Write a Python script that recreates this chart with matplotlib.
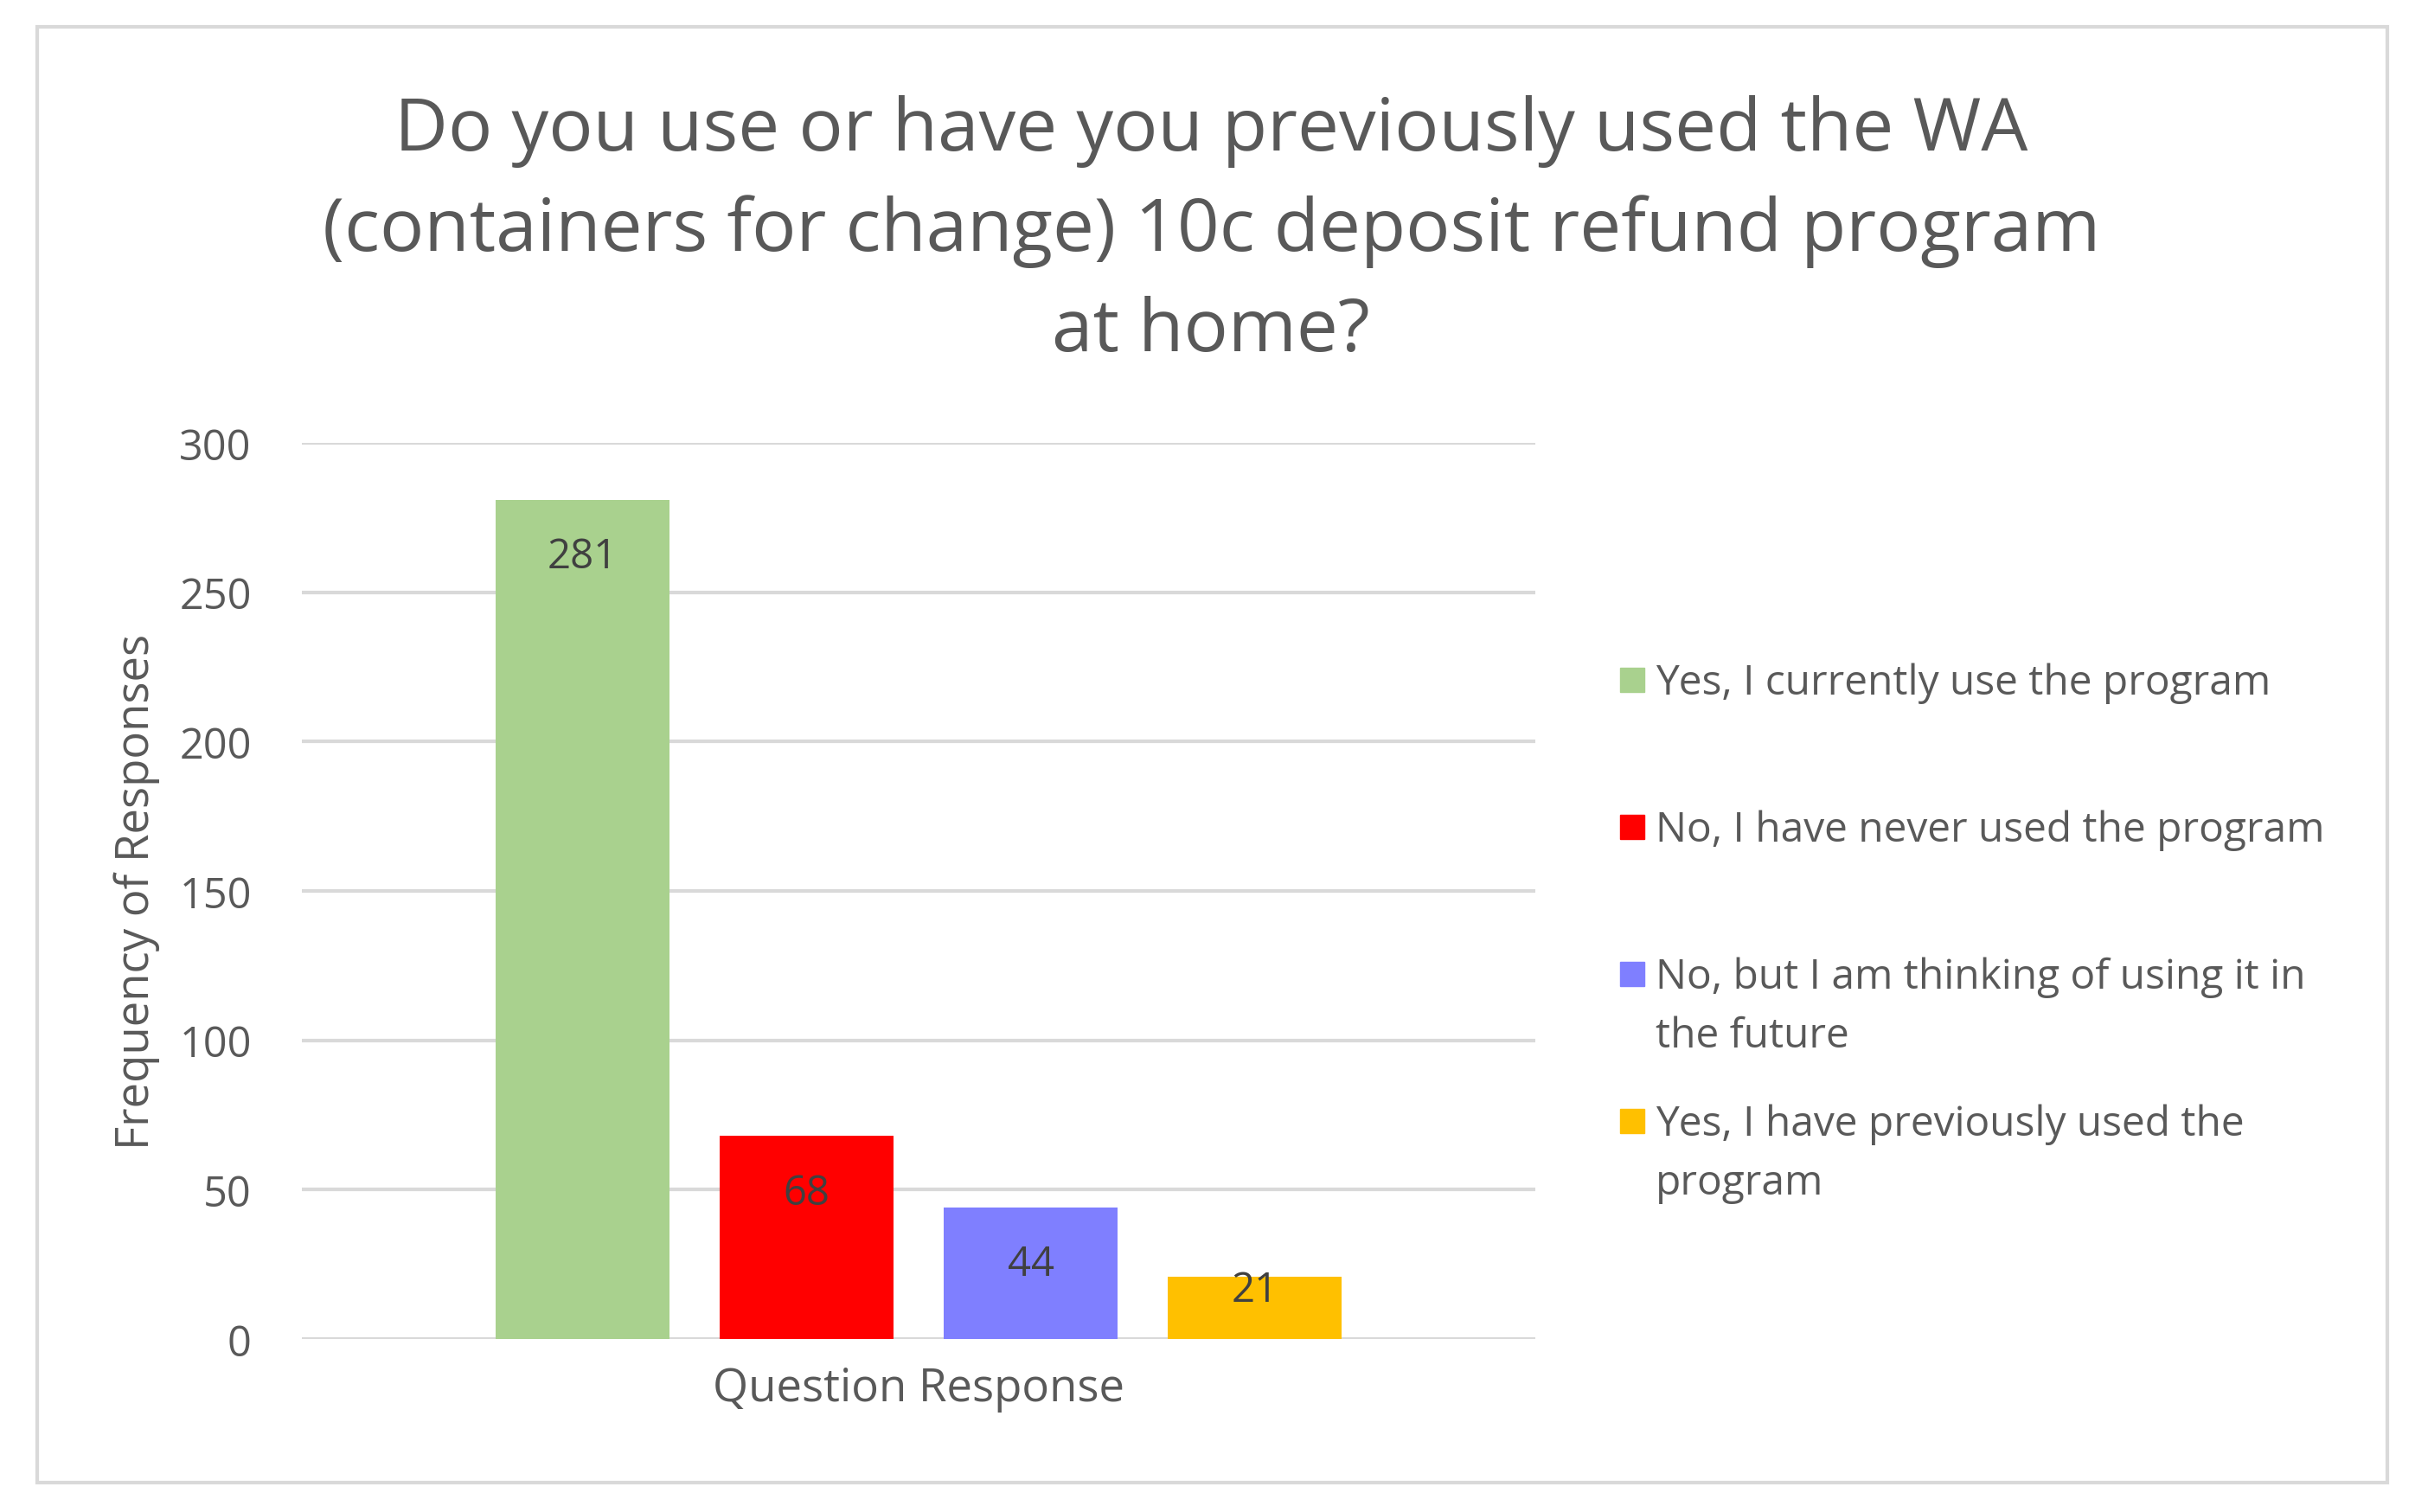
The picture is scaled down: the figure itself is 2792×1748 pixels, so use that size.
import textwrap
import matplotlib
matplotlib.use("Agg")
import matplotlib.pyplot as plt
from matplotlib.patches import Rectangle

plt.rcParams['font.family'] = ['Open Sans', 'DejaVu Sans']

# Survey data
responses = [
    "Yes, I currently use the program",
    "No, I have never used the program",
    "No, but I am thinking of using it in the future",
    "Yes, I have previously used the program",
]
counts = [281, 68, 44, 21]
colors = ['#A9D18E', '#FF0000', '#7F7FFF', '#FFC000']
y_ticks = [0, 50, 100, 150, 200, 250, 300]

title = ("Do you use or have you previously used the WA\n"
         "(containers for change) 10c deposit refund program\n"
         "at home?")

text_gray = '#595959'
grid_gray = '#D9D9D9'

fig = plt.figure(figsize=(27.92, 17.49), dpi=100)

# outer chart border
fig.patches.append(Rectangle((0.0154, 0.0194), 0.9731, 0.9623, transform=fig.transFigure,
                             fill=False, edgecolor=grid_gray, linewidth=3))

ax = fig.add_axes([0.125, 0.1143, 0.5107, 0.5924])

x_pos = list(range(len(counts)))
bars = ax.bar(x_pos, counts, width=0.775, color=colors, zorder=3)

# value labels inside the top of each bar (short bars keep the label inside)
for rect, val in zip(bars, counts):
    cx = rect.get_x() + rect.get_width() / 2
    ly = val - 19 if val >= 38 else val * 0.78
    ax.text(cx, ly, str(val), ha='center', va='center',
            fontsize=34, color='#404040', zorder=4)

ax.set_xlim(-1.25, 4.25)
ax.set_ylim(0, 300)
ax.set_yticks(y_ticks)
ax.set_xticks([])
ax.yaxis.grid(True, color=grid_gray, linewidth=3, zorder=0)
ax.tick_params(axis='y', length=0, pad=42, labelsize=35, labelcolor=text_gray)
for side in ['top', 'right', 'left', 'bottom']:
    ax.spines[side].set_visible(False)

ax.set_xlabel('Question Response', fontsize=38, color=text_gray, labelpad=22)
ax.set_ylabel('Frequency of Responses', fontsize=38, color=text_gray, labelpad=16)

fig.text(0.5015, 0.847, title, ha='center', va='center', fontsize=61.5,
         color=text_gray, linespacing=1.49)

# legend drawn by hand, square aligned to the first line of each entry
leg_top = 1 - 787 / 1749
leg_step = 170 / 1749
sq_w = 28 / 2792
sq_h = 28 / 1749
for i, (lab, col) in enumerate(zip(responses, colors)):
    yc = leg_top - i * leg_step
    fig.patches.append(Rectangle((1873 / 2792, yc - sq_h / 2), sq_w, sq_h,
                                 transform=fig.transFigure, color=col))
    fig.text(1914 / 2792, yc + 0.012, textwrap.fill(lab, 36), ha='left', va='top',
             fontsize=34.5, color=text_gray, linespacing=1.58)

fig.savefig('out.png', dpi=100)
